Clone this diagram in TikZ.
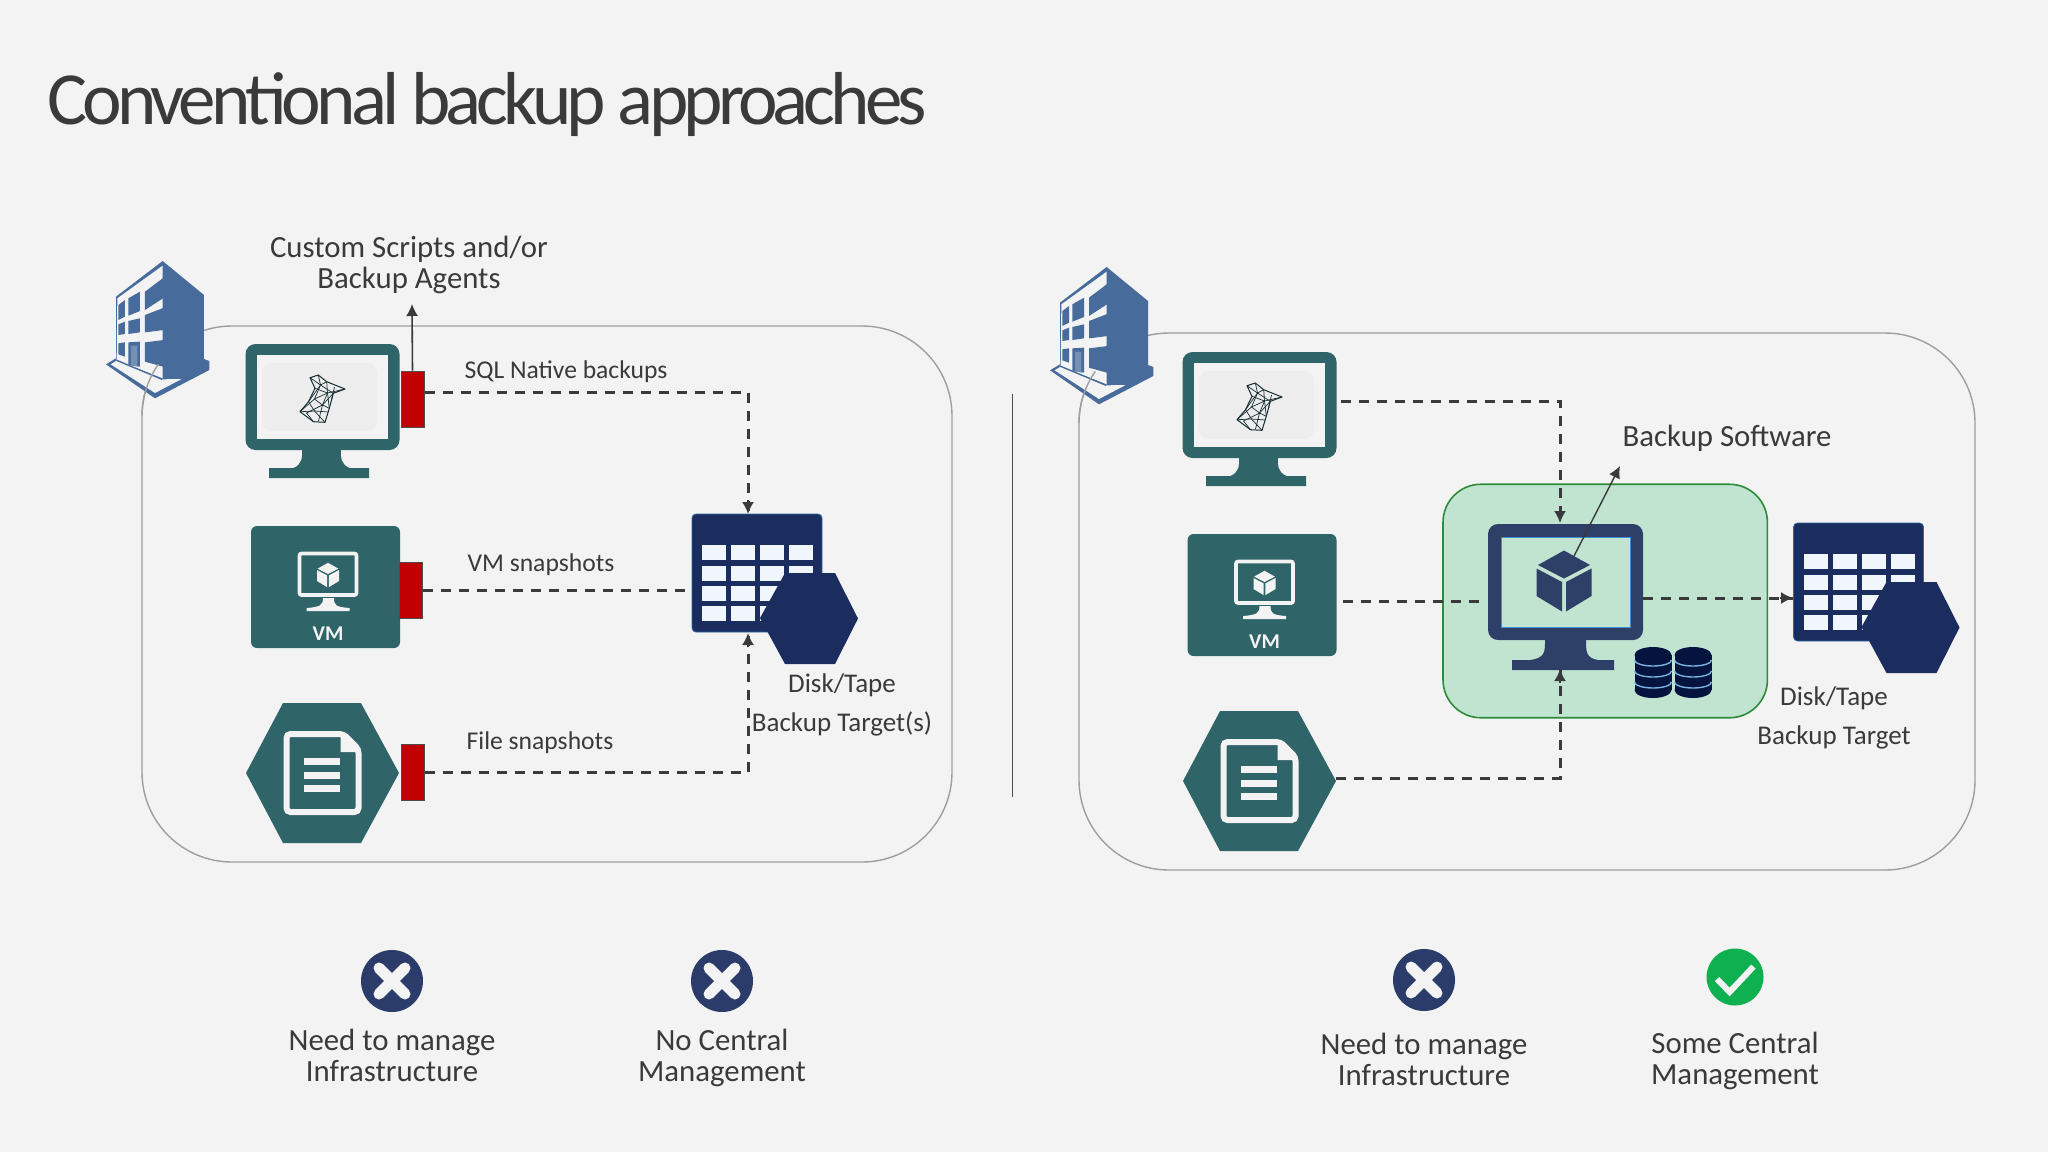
\documentclass[tikz,border=0pt]{standalone}
\usepackage{fontspec}
\usepackage{tikz}
\usepackage{xcolor}
\usetikzlibrary{arrows.meta}
\setmainfont{Carlito}
\newfontfamily\titlefont{Carlito}[LetterSpace=-6.5]

\definecolor{pagebg}{HTML}{F3F3F3}
\definecolor{tealbox}{HTML}{2F6468}
\definecolor{navybox}{HTML}{1B2C5E}
\definecolor{navymon}{HTML}{2E4068}
\definecolor{navyx}{HTML}{2B3C6B}
\definecolor{dbnavy}{HTML}{04143F}
\definecolor{edgeblue}{HTML}{3F8FD2}
\definecolor{agentred}{HTML}{C00000}
\definecolor{softgreen}{HTML}{C1E4D1}
\definecolor{linegreen}{HTML}{2E8B3A}
\definecolor{okgreen}{HTML}{0EB04F}
\definecolor{bldblue}{HTML}{476B9B}
\definecolor{inkgrey}{HTML}{3A3A3A}

\tikzset{
    panelbox/.style={draw=black!38,line width=0.7pt,rounded corners=45pt,inner sep=0pt},
    agentbox/.style={draw=black!70,line width=0.5pt,fill=agentred,inner sep=0pt,minimum width=11.5pt,minimum height=28pt},
    dashline/.style={draw=inkgrey,line width=1.5pt,dash pattern=on 5pt off 4pt},
    linktip/.style={-{Latex[length=6pt,width=6pt]}},
    label/.style={text=inkgrey,align=center,inner sep=0pt,font=\fontsize{12.8}{15.5}\selectfont},
    biglabel/.style={text=inkgrey,align=center,inner sep=0pt,font=\fontsize{15.4}{15.5}\selectfont},
    tallabel/.style={text=inkgrey,align=center,inner sep=0pt,font=\fontsize{13.5}{19.5}\selectfont},
    badge/.style={circle,inner sep=0pt,minimum size=31pt},
    % building drawn in its own zoomed units
    pics/office/.style={code={
        \fill[bldblue] (48,125)--(188,18)--(312,120)--(312,312)--(328,318)--(328,345)--(165,430)--(18,328)--(48,310)--cycle;
        \fill[pagebg] (52,130)--(188,32)--(188,335)--(188,370)--(50,316)--cycle;
        \fill[pagebg] (32,328)--(50,317)--(186,373)--(245,372)--(165,414)--cycle;
        \draw[bldblue,line width=0.7pt] (50,316)--(186,373);
        \fill[bldblue] (55,150)--(75,135)--(75,185)--(55,195)--cycle;
        \fill[bldblue] (55,208)--(75,200)--(75,237)--(55,240)--cycle;
        \fill[bldblue] (55,265)--(75,262)--(75,305)--(55,298)--cycle;
        \fill[bldblue] (85,130)--(120,110)--(120,168)--(85,182)--cycle;
        \fill[bldblue] (85,198)--(120,190)--(120,232)--(85,237)--cycle;
        \fill[bldblue] (85,262)--(120,260)--(120,335)--(85,330)--cycle;
        \fill[bldblue!75] (93,272)--(112,272)--(112,335)--(93,330)--cycle;
        \fill[bldblue] (135,110)--(192,67)--(192,128)--(135,165)--cycle;
        \fill[bldblue] (135,180)--(192,158)--(192,225)--(135,232)--cycle;
        \fill[bldblue] (135,262)--(192,255)--(192,336)--(135,320)--cycle;
    }},
    % monitor with the database logo on its screen
    pics/sqlscreen/.style={code={
        \node[fill=tealbox,rounded corners=5pt,inner sep=0pt,minimum width=77pt,minimum height=53pt] (-case) at (0,0) {};
        \fill[pagebg] (-65.5,-42) rectangle (65.5,42);
        \fill[black!7,rounded corners=5pt] (-60.5,-34) rectangle (54.5,34);
        \fill[tealbox] (-20.5,53) .. controls (-20,60) and (-20,67) .. (-29,71) -- (-53.5,71) -- (-53.5,81) -- (46.5,81) -- (46.5,71) -- (27,71) .. controls (18,67) and (18,60) .. (18.5,53) -- cycle;
        \begin{scope}[draw=tealbox!45!black,line width=0.35pt,line join=round]
            \draw[line width=0.5pt] (-12.5,-19.3) -- (-4.2,-22) -- (4.2,-15.3) -- (22.5,-8) -- (10.8,-3.7) -- (6.8,11.3) -- (2.5,25.3) -- (-9,24.7) -- (-22.5,14.7) -- (-14,4.7) -- (-7.5,-8.7) -- cycle;
            \draw (-12.5,-19.3) -- (-2,-12) -- (10.8,-3.7);
            \draw (-4.2,-22) -- (-2,-12) -- (-8,2) -- (-22.5,14.7);
            \draw (4.2,-15.3) -- (-2,-12) -- (-14,4.7);
            \draw (4.2,-15.3) -- (5,-4) -- (-8,2);
            \draw (22.5,-8) -- (5,-4) -- (0,8) -- (-16,16);
            \draw (10.8,-3.7) -- (0,8) -- (-4,24);
            \draw (-7.5,-8.7) -- (5,-4) -- (6.8,11.3);
            \draw (-8,2) -- (0,8) -- (6.8,11.3);
            \draw (-14,4.7) -- (-8,14) -- (2.5,25.3);
            \draw (-22.5,14.7) -- (-8,14) -- (6,15);
            \draw (-16,16) -- (-9,24.7);
            \draw (12,-10) -- (9,3);
        \end{scope}
    }},
    % cube, drawn at the size of the large one
    pics/cubeicon/.style={code={
        \fill[#1] (0,-30.5) -- (26,-16) -- (0,-2.5) -- (-26,-16) -- cycle;
        \fill[#1] (-27.5,-12.5) -- (-2,1) -- (-2,30.5) -- (-27.5,15) -- cycle;
        \fill[#1] (27.5,-12.5) -- (2,1) -- (2,30.5) -- (27.5,15) -- cycle;
    }},
    pics/vmtile/.style={code={
        \node[fill=tealbox,rounded corners=3pt,inner sep=0pt,minimum width=74.5pt,minimum height=61pt] (-case) at (0,0) {};
        \draw[pagebg,line width=1.8pt,rounded corners=1pt] (-26,-33.5) rectangle (31,8);
        \fill[pagebg] (-2.5,11) -- (8.5,11) .. controls (8.5,18) and (10,20) .. (24,21) -- (24,24) -- (-19,24) -- (-19,21) .. controls (-5,20) and (-2.5,18) .. (-2.5,11) -- cycle;
        \pic[scale=0.4] at (2.5,-12) {cubeicon=pagebg};
        \node[text=pagebg,inner sep=0pt,font=\fontsize{10.5}{12}\bfseries\selectfont] (-tag) at (2.5,47) {VM};
    }},
    pics/filehex/.style={code={
        \fill[tealbox] (-76.5,0) -- (-39.5,-70) -- (38.5,-70) -- (76.5,0) -- (38.5,70) -- (-39.5,70) -- cycle;
        \node[inner sep=0pt,minimum width=76.5pt,minimum height=70pt] (-body) at (0,0) {};
        \draw[pagebg,line width=3pt,rounded corners=2pt] (-36,-39) -- (21,-39) -- (36,-24) -- (36,39) -- (-36,39) -- cycle;
        \fill[pagebg] (18,-39) -- (36,-21) -- (18,-21) -- cycle;
        \foreach \ry in {-12,2,15} {
            \fill[pagebg] (-18.5,\ry-3.5) rectangle (17.5,\ry+3.5);
        }
    }},
    pics/tapestore/.style={code={
        \node[fill=navybox,rounded corners=2pt,draw=edgeblue!60!navybox,line width=0.4pt,inner sep=0pt,minimum width=65pt,minimum height=59pt] (-block) at (0,0) {};
        \foreach \cx in {-55,-26,3,32} {
            \foreach \cy in {-28,-7,13,33} {
                \fill[white!92!edgeblue] (\cx,\cy) rectangle (\cx+24,\cy+15);
            }
        }
        \fill[navybox] (3,45) -- (28,0) -- (78,0) -- (101,45.5) -- (78,91) -- (28,91) -- cycle;
    }},
    pics/dbstack/.style={code={
        \fill[dbnavy] (-18.5,-17) rectangle (18.5,18);
        \fill[dbnavy] (0,-17) ellipse [x radius=18.5,y radius=8];
        \fill[dbnavy] (0,18) ellipse [x radius=18.5,y radius=8];
        \foreach \ly in {-12,-1,10} {
            \draw[edgeblue!70!white,line width=0.7pt] (-18.5,\ly) arc [start angle=180,end angle=0,x radius=18.5,y radius=6];
        }
    }},
}

\begin{document}
\begin{tikzpicture}[x=0.5pt,y=-0.5pt]
    \useasboundingbox (0,0) rectangle (2048,1152);
    \fill[pagebg] (0,0) rectangle (2048,1152);

    % Title
    \node[anchor=west,inner sep=0pt,text=inkgrey,font=\fontsize{37.5}{44}\titlefont] (title) at (47,104) {Conventional backup approaches};

    % Left panel
    \node[panelbox,minimum width=405pt,minimum height=268pt] (leftpanel) at (547,594) {};
    \pic[scale=0.3333] at (100,255) {office};
    \draw[draw=black!38,line width=0.7pt] (142,416) arc [start angle=180,end angle=215,radius=90];

    \pic (sql) at (322.5,397) {sqlscreen};
    \pic (vm) at (325.5,587) {vmtile};
    \pic (file) at (322.5,773) {filehex};
    \pic (store) at (757,573) {tapestore};

    \node[agentbox] (agentsql) at (412.5,399) {};
    \node[agentbox] (agentvm) at (411,590) {};
    \node[agentbox] (agentfile) at (412.5,772.5) {};

    \node[biglabel] (scripts) at (409,264.5) {Custom Scripts and/or\\Backup Agents};
    \node[label] (sqllabel) at (566,372) {SQL Native backups};
    \node[label] (vmlabel) at (541,565) {VM snapshots};
    \node[label] (filelabel) at (540,743) {File snapshots};
    \node[tallabel] (storelabel) at (842,704.5) {Disk/Tape\\Backup Target(s)};

    % Left connectors
    \coordinate (scriptin) at (412,304);
    \coordinate (sqlin) at (748,514);
    \coordinate (vmin) at (687,590);
    \coordinate (filein) at (748,633);
    \draw[linktip,draw=inkgrey,fill=inkgrey,line width=0.8pt] (agentsql.north) -- (scriptin);
    \draw[dashline] ([yshift=3.2pt]agentsql.east) -| (sqlin);
    \draw[linktip,draw=inkgrey,fill=inkgrey,line width=1pt] (748,500) -- (sqlin);
    \draw[dashline] (agentvm.east) -- (vmin);
    \draw[dashline] (agentfile.east) -| (filein);
    \draw[linktip,draw=inkgrey,fill=inkgrey,line width=1pt] (748,647) -- (filein);

    % Divider
    \coordinate (divtop) at (1012.5,394);
    \coordinate (divbot) at (1012.5,797);
    \draw[draw=black!70,line width=0.7pt] (divtop) -- (divbot);

    % Right panel
    \node[panelbox,minimum width=448pt,minimum height=268.5pt] (rightpanel) at (1527,601.5) {};
    \pic[scale=0.3333] at (1044,261) {office};
    \draw[draw=black!38,line width=0.7pt] (1079,423) arc [start angle=180,end angle=215,radius=90];

    \pic (sqltwo) at (1259.5,405) {sqlscreen};
    \pic (vmtwo) at (1262,595) {vmtile};
    \pic (filetwo) at (1259.5,781) {filehex};

    % Backup software
    \node[draw=linegreen,line width=0.8pt,fill=softgreen,rounded corners=19pt,inner sep=0pt,minimum width=162.2pt,minimum height=116.75pt] (softbox) at (1605.2,601) {};
    \node[fill=navymon,rounded corners=5pt,inner sep=0pt,minimum width=77.5pt,minimum height=58pt] (server) at (1565.5,582) {};
    \fill[softgreen,draw=edgeblue,line width=0.5pt] (1501,537) rectangle (1630,627);
    \fill[navymon] (1545,640) .. controls (1545,652) and (1545,658) .. (1530,660) -- (1512,660) -- (1512,670) -- (1614,670) -- (1614,660) -- (1598,660) .. controls (1586,658) and (1586,652) .. (1586,640) -- cycle;
    \pic at (1564,581) {cubeicon=navymon};
    \pic at (1653,672) {dbstack};
    \pic at (1693,672) {dbstack};
    \pic (storetwo) at (1858.5,582) {tapestore};

    \node[biglabel] (softlabel) at (1727,438) {Backup Software};
    \node[tallabel] (storetwolabel) at (1834,718) {Disk/Tape\\Backup Target};

    % Right connectors
    \coordinate (cubeout) at (1574,556);
    \coordinate (softin) at (1620,466);
    \coordinate (sqltwoin) at (1560,523);
    \coordinate (vmtwoin) at (1481,601);
    \coordinate (filetwoin) at (1560,669);
    \draw[dashline] ([shift={(2pt,2pt)}]sqltwo-case.east) -| (sqltwoin);
    \draw[linktip,draw=inkgrey,fill=inkgrey,line width=1pt] (1560,509) -- (sqltwoin);
    \draw[dashline] ([shift={(3pt,-3pt)}]vmtwo-case.east) -- (vmtwoin);
    \draw[dashline] ([yshift=1.5pt]filetwo-body.east) -| (filetwoin);
    \draw[linktip,draw=inkgrey,fill=inkgrey,line width=1pt] (1560,683) -- (filetwoin);
    \draw[linktip,draw=inkgrey,fill=inkgrey,line width=0.7pt] (cubeout) -- (softin);
    \draw[dashline] ([yshift=-8pt]server.east) -- ([yshift=-8pt]storetwo-block.west);
    \draw[linktip,draw=inkgrey,fill=inkgrey,line width=1pt] (1780,598) -- ([yshift=-8pt]storetwo-block.west);

    % Verdict badges
    \node[badge,fill=navyx] (xone) at (392,981) {};
    \node[badge,fill=navyx] (xtwo) at (722,981) {};
    \node[badge,fill=navyx] (xthree) at (1424,980) {};
    \node[badge,fill=okgreen,minimum size=28.5pt] (okone) at (1735,977) {};
    \foreach \bx in {xone,xtwo,xthree} {
        \draw[pagebg,line width=5.5pt,line cap=round] ([shift={(-6.5pt,-6.5pt)}]\bx.center) -- ([shift={(6.5pt,6.5pt)}]\bx.center);
        \draw[pagebg,line width=5.5pt,line cap=round] ([shift={(-6.5pt,6.5pt)}]\bx.center) -- ([shift={(6.5pt,-6.5pt)}]\bx.center);
    }
    \draw[pagebg,line width=3pt] ([shift={(-9pt,-1pt)}]okone.center) -- ([shift={(-2.7pt,-7.5pt)}]okone.center) -- ([shift={(9.2pt,5.2pt)}]okone.center);

    \node[biglabel] (capone) at (392,1055.5) {Need to manage\\Infrastructure};
    \node[biglabel] (captwo) at (722,1058) {No Central\\Management};
    \node[biglabel] (capthree) at (1424,1059) {Need to manage\\Infrastructure};
    \node[biglabel] (capfour) at (1735,1060.5) {Some Central\\Management};
\end{tikzpicture}
\end{document}
